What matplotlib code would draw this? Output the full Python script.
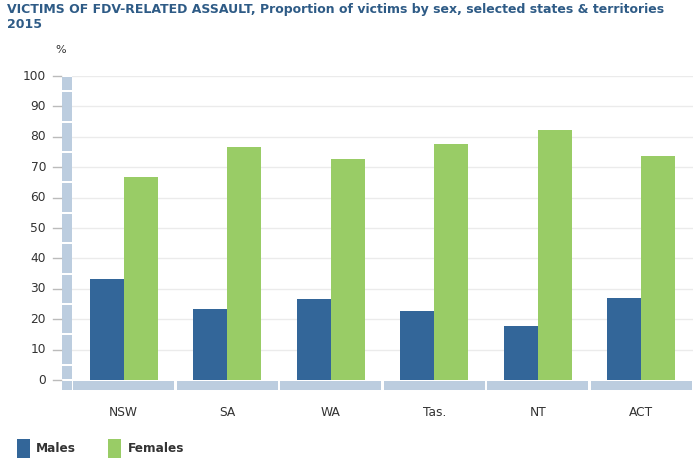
import matplotlib.pyplot as plt
import matplotlib.patches as mpatches
import matplotlib.transforms as mtrans
import numpy as np

states = ['NSW', 'SA', 'WA', 'Tas.', 'NT', 'ACT']
males = [33.3, 23.4, 26.8, 22.6, 17.8, 27.0]
females = [66.7, 76.6, 72.8, 77.6, 82.3, 73.7]
yticks = list(range(0, 101, 10))

male_col = '#336699'
female_col = '#99cc66'
band_col = '#bccddf'
text_col = '#333333'
title_col = '#2e5b86'

W, H = 700, 459
fig = plt.figure(figsize=(W / 100, H / 100), dpi=100)

def fx(px):
    return px / W

def fy(py):
    return 1 - py / H

# plot area in pixels: x 72..693, y(0)=380, y(100)=76
ax = fig.add_axes([fx(72), fy(380), fx(693) - fx(72), fy(76) - fy(380)])
ax.set_xlim(-0.5, len(states) - 0.5)
ax.set_ylim(0, 100)

x = np.arange(len(states))
bw = 0.33
ax.bar(x - bw / 2, males, bw, color=male_col, zorder=3)
ax.bar(x + bw / 2, females, bw, color=female_col, zorder=3)

for t in yticks[1:]:
    ax.axhline(t, color='#ebebeb', lw=1, zorder=1)

for s in ax.spines.values():
    s.set_visible(False)
ax.set_xticks([])
ax.set_yticks([])

# y tick labels and small tick marks
for t in yticks:
    yy = fy(380) + (fy(76) - fy(380)) * t / 100
    fig.text(fx(46), yy, str(t), ha='right', va='center', fontsize=8.8, color=text_col)
    fig.add_artist(plt.Line2D([fx(53), fx(61)], [yy, yy], color='#bbbbbb', lw=1))
fig.text(fx(61), fy(50), '%', ha='center', va='center', fontsize=8, color=text_col)

# left vertical band, segmented
trans_y = mtrans.blended_transform_factory(fig.transFigure, ax.transData)
edges = [0, 5] + list(range(15, 100, 10)) + [100]
for a, b in zip(edges[:-1], edges[1:]):
    r = mpatches.Rectangle((fx(62), a + 0.35), fx(72) - fx(62), (b - a) - 0.7,
                           transform=trans_y, color=band_col, clip_on=False, lw=0)
    fig.add_artist(r)

# bottom band, segmented per category
trans_x = mtrans.blended_transform_factory(ax.transData, fig.transFigure)
for i in range(len(states)):
    r = mpatches.Rectangle((i - 0.5 + 0.012, fy(389.5)), 1 - 0.024, fy(381) - fy(389.5),
                           transform=trans_x, color=band_col, clip_on=False, lw=0)
    fig.add_artist(r)
fig.add_artist(mpatches.Rectangle((fx(62), fy(389.5)), fx(72) - fx(62), fy(381) - fy(389.5),
                                  transform=fig.transFigure, color=band_col, lw=0))

# category labels
for i, s in enumerate(states):
    ax.text(i, fy(413), s, transform=trans_x, ha='center', va='center',
            fontsize=8.8, color=text_col)

# title
fig.text(fx(7), fy(9), 'VICTIMS OF FDV-RELATED ASSAULT, Proportion of victims by sex, selected states & territories',
         fontsize=9, fontweight='bold', color=title_col, va='center', ha='left')
fig.text(fx(7), fy(25), '2015', fontsize=9, fontweight='bold', color=title_col, va='center', ha='left')

# legend
for (x0, lab, col, tx) in [(17, 'Males', male_col, 36), (108, 'Females', female_col, 128)]:
    fig.add_artist(mpatches.Rectangle((fx(x0), fy(458)), fx(13), fy(439) - fy(458),
                                      transform=fig.transFigure, color=col, lw=0))
    fig.text(fx(tx), fy(449), lab, fontsize=8.7, fontweight='bold', color=text_col, va='center', ha='left')

fig.savefig('out.png', dpi=100)
